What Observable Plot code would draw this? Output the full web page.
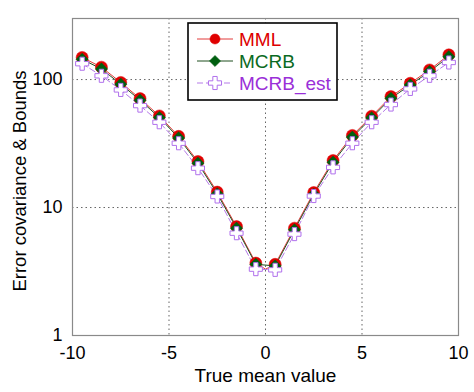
<!DOCTYPE html>
<html>
<head>
<meta charset="utf-8">
<script src="https://cdn.jsdelivr.net/npm/d3@7"></script>
<script src="https://cdn.jsdelivr.net/npm/@observablehq/plot@0.6"></script>
<style>
  html, body { margin: 0; padding: 0; background: #fff; }
  #chart { width: 474px; height: 392px; }
  svg { font-family: "Liberation Sans", Arial, Helvetica, sans-serif; }
</style>
</head>
<body>
<div id="chart"></div>
<script>
// True mean values at which the estimators were evaluated
const trueMean = [-9.5, -8.5, -7.5, -6.5, -5.5, -4.5, -3.5, -2.5, -1.5, -0.5,
                  0.5, 1.5, 2.5, 3.5, 4.5, 5.5, 6.5, 7.5, 8.5, 9.5];

// Error covariance of the MML estimator
const mml = [149, 125, 95, 71, 52, 36, 22.9, 13.2, 7.1, 3.68,
             3.6, 6.9, 13.1, 23.3, 36.6, 51.7, 73.6, 93.6, 119, 156];
// MML curve also passes through the centre value
const mmlCurveX = [-9.5, -8.5, -7.5, -6.5, -5.5, -4.5, -3.5, -2.5, -1.5, -0.5, 0,
                   0.5, 1.5, 2.5, 3.5, 4.5, 5.5, 6.5, 7.5, 8.5, 9.5];
const mmlCurve = [149, 125, 95, 71, 52, 36, 22.9, 13.2, 7.1, 3.68, 3.3,
                  3.6, 6.9, 13.1, 23.3, 36.6, 51.7, 73.6, 93.6, 119, 156];

// Misspecified Cramér-Rao bound
const mcrb = [144, 121, 92, 69, 50.5, 35, 22.2, 12.8, 6.9, 3.6,
              3.5, 6.7, 12.7, 22.6, 35.5, 50.2, 71.4, 90.8, 115.5, 151];

// Estimated MCRB
const mcrbEst = [133, 107, 83, 62.6, 46.4, 31.8, 20.3, 12.2, 6.3, 3.3,
                 3.26, 6.2, 12.3, 20.6, 31.8, 46.4, 63.8, 84.5, 107, 136];

const xTicks = [-10, -5, 0, 5, 10];
const yTicks = [1, 10, 100];

const seriesNames = ["MML", "MCRB", "MCRB_est"];
const lineColors = ["#e23a3a", "#1f4f1f", "#b57ae8"];
const markColors = ["#e00000", "#005f10", "#b070ec"];
const textColors = ["#dd0000", "#0a6a22", "#9a2fd8"];

const rows = (xs, ys) => xs.map((x, i) => ({x, y: ys[i]}));
const mmlRows = rows(trueMean, mml);
const mmlCurveRows = rows(mmlCurveX, mmlCurve);
const mcrbRows = rows(trueMean, mcrb);
const estRows = rows(trueMean, mcrbEst);

const chart = Plot.plot({
  width: 474,
  height: 392,
  marginLeft: 72,
  marginRight: 16,
  marginTop: 18,
  marginBottom: 57,
  style: {fontFamily: "Liberation Sans, Arial, Helvetica, sans-serif", background: "#fff"},
  x: {domain: [-10, 10]},
  y: {type: "log", domain: [1, 300]},
  marks: [
    Plot.gridX([-5, 0, 5], {stroke: "#555", strokeOpacity: 0.9, strokeDasharray: "1.5,3"}),
    Plot.gridY([10, 100], {stroke: "#555", strokeOpacity: 0.9, strokeDasharray: "1.5,3"}),
    Plot.frame({stroke: "#8a8a8a", strokeWidth: 1.2}),
    Plot.axisX(xTicks, {tickSize: 0, tickPadding: 11, fontSize: 18, label: null, tickFormat: d => String(d)}),
    Plot.axisY(yTicks, {tickSize: 0, tickPadding: 10, fontSize: 18, label: null, tickFormat: d => String(d)}),
    Plot.text(["True mean value"], {frameAnchor: "bottom", lineAnchor: "middle", textAnchor: "middle", dy: 40, fontSize: 19}),
    Plot.text(["Error covariance & Bounds"], {frameAnchor: "left", textAnchor: "middle", lineAnchor: "middle", dx: -52, dy: 4, rotate: -90, fontSize: 18.5}),
    Plot.line(mmlCurveRows, {x: "x", y: "y", stroke: lineColors[0], strokeWidth: 1}),
    Plot.line(mcrbRows, {x: "x", y: "y", stroke: lineColors[1], strokeWidth: 1}),
    Plot.line(estRows, {x: "x", y: "y", stroke: lineColors[2], strokeWidth: 1, strokeDasharray: "6,3"}),
    Plot.dot(mmlRows, {x: "x", y: "y", r: 6, symbol: "circle", fill: markColors[0], stroke: markColors[0], strokeWidth: 0.5}),
    Plot.dot(mcrbRows, {x: "x", y: "y", r: 5.5, symbol: "diamond2", fill: markColors[1], stroke: markColors[1], strokeWidth: 0.5}),
    Plot.dot(estRows, {x: "x", y: "y", r: 5.5, symbol: "cross", fill: "#fff", stroke: markColors[2], strokeWidth: 1})
  ]
});

document.getElementById("chart").appendChild(chart);

// Legend box in the upper middle of the plotting area
const svg = d3.select(chart);
const lg = svg.append("g").attr("transform", "translate(188,23)");
lg.append("rect").attr("width", 149).attr("height", 77)
  .attr("fill", "#fff").attr("stroke", "#000").attr("stroke-width", 1.6);
const symbols = [d3.symbolCircle, d3.symbolDiamond2, d3.symbolCross];
const sizes = [80, 80, 95];
seriesNames.forEach((name, i) => {
  const y = 16 + i * 22;
  lg.append("line").attr("x1", 9).attr("x2", 45).attr("y1", y).attr("y2", y)
    .attr("stroke", lineColors[i]).attr("stroke-width", 1)
    .attr("stroke-dasharray", i === 2 ? "6,3" : null);
  lg.append("path").attr("d", d3.symbol(symbols[i], sizes[i])())
    .attr("transform", `translate(27,${y})`)
    .attr("fill", i === 2 ? "#fff" : markColors[i])
    .attr("stroke", markColors[i]).attr("stroke-width", i === 2 ? 1 : 0.5);
  lg.append("text").attr("x", 51).attr("y", y).attr("dy", "0.36em")
    .attr("text-anchor", "start")
    .attr("font-size", 19).attr("fill", textColors[i]).text(name);
});
</script>
</body>
</html>
